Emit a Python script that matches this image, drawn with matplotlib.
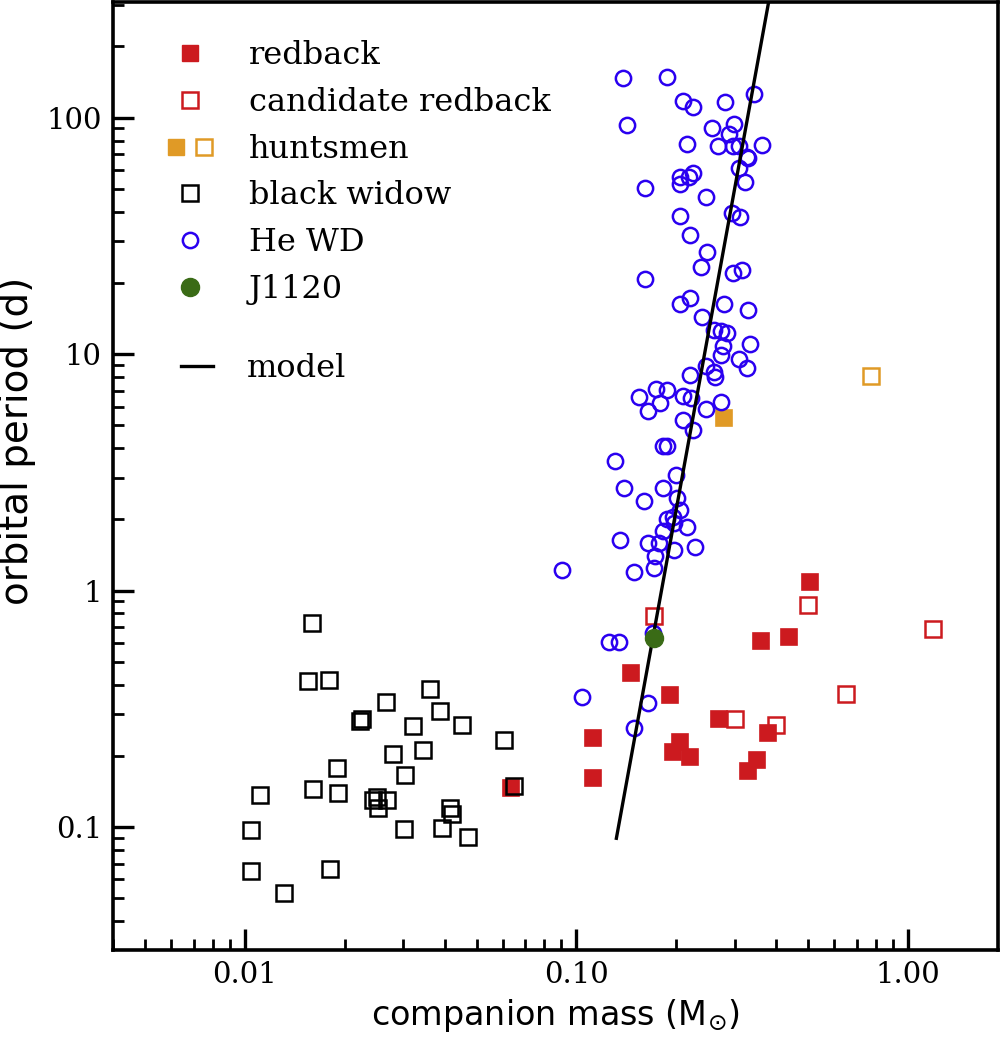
import numpy as np
import matplotlib
matplotlib.use("Agg")
import matplotlib.pyplot as plt
from matplotlib.lines import Line2D
from matplotlib.legend_handler import HandlerTuple

# black widows
bw_mass = [0.0159, 0.0155, 0.0179, 0.0361, 0.0266, 0.0387, 0.0222, 0.0225, 0.0321,
           0.0451, 0.0603, 0.0344, 0.0279, 0.0189, 0.0305, 0.0111, 0.0160, 0.0191,
           0.0250, 0.0243, 0.0268, 0.0252, 0.0417, 0.0420, 0.0650, 0.0104, 0.0301,
           0.0392, 0.0470, 0.0104, 0.0180, 0.0131]
bw_pb = [0.729, 0.414, 0.418, 0.383, 0.337, 0.309, 0.280, 0.286, 0.267,
         0.270, 0.233, 0.211, 0.203, 0.177, 0.166, 0.136, 0.145, 0.139,
         0.134, 0.130, 0.130, 0.120, 0.120, 0.114, 0.149, 0.0969, 0.098,
         0.0989, 0.0905, 0.0650, 0.0663, 0.0525]

# redbacks
rb_mass = [0.507, 0.360, 0.438, 0.146, 0.192, 0.1125, 0.1125, 0.270, 0.379,
           0.206, 0.196, 0.220, 0.351, 0.330, 0.0637]
rb_pb = [1.086, 0.611, 0.636, 0.448, 0.361, 0.238, 0.161, 0.286, 0.249,
         0.229, 0.207, 0.197, 0.192, 0.172, 0.146]

# candidate redbacks
crb_mass = [0.172, 0.500, 0.650, 0.301, 0.400, 1.19]
crb_pb = [0.780, 0.868, 0.365, 0.286, 0.270, 0.687]

# huntsmen
hm_mass = [0.279]
hm_pb = [5.37]
chm_mass = [0.775]
chm_pb = [8.09]

# He WD companions
wd_mass = [0.1385, 0.188, 0.344, 0.209, 0.225, 0.281, 0.142, 0.257, 0.299, 0.289,
           0.216, 0.268, 0.297, 0.310, 0.363, 0.327, 0.330, 0.310, 0.323, 0.206,
           0.206, 0.219, 0.225, 0.161, 0.246, 0.295, 0.312, 0.206, 0.2205, 0.248,
           0.238, 0.297, 0.316, 0.161, 0.206, 0.2205, 0.279, 0.330, 0.240, 0.260,
           0.273, 0.285, 0.277, 0.334, 0.273, 0.310, 0.327, 0.246, 0.260, 0.262,
           0.2205, 0.154, 0.174, 0.187, 0.179, 0.164, 0.209, 0.222, 0.246, 0.273,
           0.209, 0.225, 0.183, 0.187, 0.131, 0.200, 0.1395, 0.183, 0.160, 0.2015,
           0.206, 0.188, 0.196, 0.197, 0.216, 0.182, 0.135, 0.165, 0.177, 0.197,
           0.228, 0.173, 0.172, 0.1495, 0.0907, 0.1706, 0.125, 0.134, 0.104, 0.164,
           0.1495]
wd_pb = [147.5, 149, 126, 118, 111, 116, 93.3, 90.6, 94.2, 85.5,
         77.6, 76.1, 76.1, 76.1, 76.8, 68.3, 67.6, 61.4, 53.6, 56.2,
         52.5, 56.2, 58.5, 50.5, 46.3, 39.6, 38.1, 38.5, 31.9, 27.1,
         23.4, 22.1, 22.7, 20.8, 16.3, 17.3, 16.3, 15.4, 14.4, 12.7,
         12.5, 12.3, 10.8, 11.0, 9.92, 9.54, 8.74, 8.91, 8.41, 8.01,
         8.17, 6.59, 7.12, 7.06, 6.22, 5.75, 6.65, 6.53, 5.86, 6.28,
         5.27, 4.78, 4.09, 4.09, 3.53, 3.08, 2.72, 2.72, 2.39, 2.46,
         2.19, 2.01, 2.05, 1.93, 1.86, 1.79, 1.64, 1.59, 1.59, 1.48,
         1.53, 1.40, 1.245, 1.20, 1.22, 0.661, 0.605, 0.605, 0.354, 0.334,
         0.262]

# J1120
j_mass = [0.171]
j_pb = [0.629]

# model relation (end points)
model_mass = [0.132, 0.385]
model_pb = [0.0896, 340]

red = "#cc1a1f"
orange = "#e09a26"
blue = "#2a00f0"
green = "#3a6b16"

fig = plt.figure(figsize=(10.02, 10.43), dpi=100)
ax = fig.add_axes([0.1128, 0.0892, 0.8832, 0.9088])

ms = 11
mew = 1.8
ax.plot(rb_mass, rb_pb, "s", color=red, ms=ms, mec=red, mew=1.2, ls="none", zorder=2)
ax.plot(crb_mass, crb_pb, "s", mfc="none", mec=red, ms=ms, mew=mew, ls="none", zorder=2)
ax.plot(hm_mass, hm_pb, "s", color=orange, ms=ms, mec=orange, mew=1.2, ls="none", zorder=2)
ax.plot(chm_mass, chm_pb, "s", mfc="none", mec=orange, ms=ms, mew=mew, ls="none", zorder=2)
ax.plot(bw_mass, bw_pb, "s", mfc="none", mec="black", ms=ms, mew=mew, ls="none", zorder=3)
ax.plot(wd_mass, wd_pb, "o", mfc="none", mec=blue, ms=ms, mew=mew, ls="none", zorder=3)
ax.plot(model_mass, model_pb, "-", color="black", lw=2.4, zorder=4)
ax.plot(j_mass, j_pb, "o", color=green, ms=13, ls="none", zorder=5)

ax.set_xscale("log")
ax.set_yscale("log")
ax.set_xlim(0.004, 1.87)
ax.set_ylim(0.0302, 308)

ax.set_xticks([0.01, 0.1, 1.0])
ax.set_xticklabels(["0.01", "0.10", "1.00"])
ax.set_yticks([0.1, 1, 10, 100])
ax.set_yticklabels(["0.1", "1", "10", "100"])

for lab in ax.get_xticklabels() + ax.get_yticklabels():
    lab.set_family("DejaVu Serif")
    lab.set_fontsize(21)

ax.tick_params(which="major", direction="in", length=15, width=2.4, pad=8)
ax.tick_params(which="minor", direction="in", length=8, width=2.0)
for sp in ax.spines.values():
    sp.set_linewidth(2.6)

ax.set_xlabel(r"companion mass (M$_{\odot}$)", fontsize=24, family="DejaVu Sans", labelpad=6)
ax.set_ylabel("orbital period (d)", fontsize=28, family="DejaVu Sans")
ax.yaxis.set_label_coords(-0.087, 0.537)

h_rb = Line2D([], [], marker="s", color=red, ms=ms, ls="none")
h_crb = Line2D([], [], marker="s", mfc="none", mec=red, ms=ms, mew=mew, ls="none")
h_hm1 = Line2D([], [], marker="s", color=orange, ms=ms, ls="none")
h_hm2 = Line2D([], [], marker="s", mfc="none", mec=orange, ms=ms, mew=mew, ls="none")
h_bw = Line2D([], [], marker="s", mfc="none", mec="black", ms=ms, mew=mew, ls="none")
h_wd = Line2D([], [], marker="o", mfc="none", mec=blue, ms=ms, mew=mew, ls="none")
h_j = Line2D([], [], marker="o", color=green, ms=13, ls="none")

leg1 = ax.legend([h_rb, h_crb, (h_hm1, h_hm2), h_bw, h_wd, h_j],
                 ["redback", "candidate redback", "huntsmen", "black widow", "He WD", "J1120"],
                 handler_map={tuple: HandlerTuple(ndivide=None, pad=0)},
                 loc="upper left", bbox_to_anchor=(0.040, 0.973), borderaxespad=0,
                 frameon=False, handlelength=1.8, handletextpad=0.95, labelspacing=0.49,
                 prop={"family": "DejaVu Serif", "size": 23})
ax.add_artist(leg1)

h_model = Line2D([], [], color="black", lw=2.4)
ax.legend([h_model], ["model"], loc="upper left", bbox_to_anchor=(0.062, 0.643),
          borderaxespad=0, frameon=False, handlelength=1.0, handletextpad=1.07,
          prop={"family": "DejaVu Serif", "size": 23})

fig.savefig("out.png", dpi=100)
